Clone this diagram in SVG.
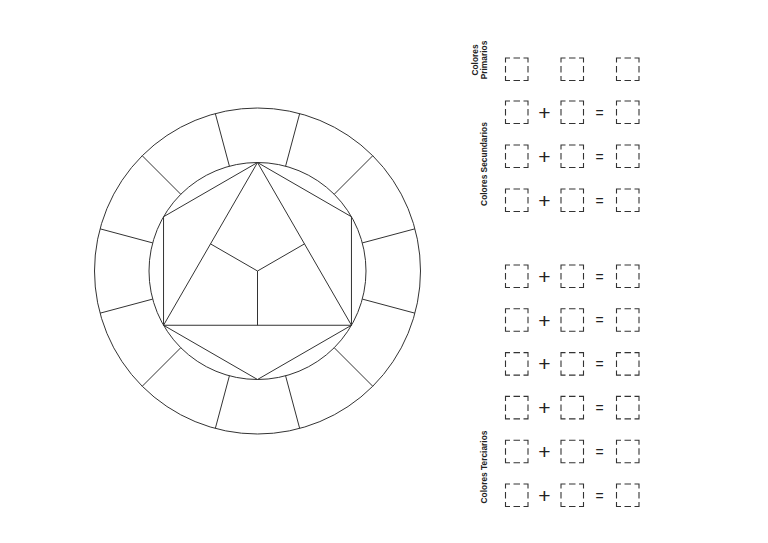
<svg xmlns="http://www.w3.org/2000/svg" xmlns:xlink="http://www.w3.org/1999/xlink" width="768" height="543" viewBox="0 0 768 543">
<style>
.ln{fill:none;stroke:#333;stroke-width:1}
.bx{fill:none;stroke:#333;stroke-width:1.1;stroke-dasharray:9 3.5 6.5 3.5;stroke-dashoffset:4.5}
.lbl{font-family:"Liberation Sans",Arial,sans-serif;font-weight:bold;font-size:8.4px;fill:#222;text-anchor:middle}
.plus{font-family:"Liberation Sans",Arial,sans-serif;font-size:21px;fill:#222;text-anchor:middle}
.eq{font-family:"Liberation Sans",Arial,sans-serif;font-size:14px;fill:#222;text-anchor:middle}
</style>
<defs>
<rect id="box" class="bx" x="0" y="0" width="22.5" height="22.5"/>
</defs>
<rect width="768" height="543" fill="#fff"/>
<g id="wheel">
<circle class="ln" cx="257.5" cy="271" r="163"/>
<circle class="ln" cx="257.5" cy="271" r="108.5"/>
<path class="ln" d="M285.58 166.2L299.68 113.56M334.22 194.28L372.76 155.74M362.3 242.92L414.94 228.82M362.3 299.08L414.94 313.18M334.22 347.72L372.76 386.26M285.58 375.8L299.68 428.44M229.42 375.8L215.32 428.44M180.78 347.72L142.24 386.26M152.7 299.08L100.06 313.18M152.7 242.92L100.06 228.82M180.78 194.28L142.24 155.74M229.42 166.2L215.32 113.56"/>
<polygon class="ln" points="257.5,162.5 351.46,216.75 351.46,325.25 257.5,379.5 163.54,325.25 163.54,216.75"/>
<polygon class="ln" points="257.5,162.5 351.46,325.25 163.54,325.25"/>
<path class="ln" d="M257.5 271V325.25M257.5 271L210.52 243.88M257.5 271L304.48 243.88"/>
</g>
<g id="labels">
<text class="lbl" transform="translate(478,60) rotate(-90)">Colores</text>
<text class="lbl" transform="translate(487,60) rotate(-90)">Primarios</text>
<text class="lbl" transform="translate(487,164) rotate(-90)">Colores Secundarios</text>
<text class="lbl" transform="translate(487,467) rotate(-90)">Colores Terciarios</text>
</g>
<g id="primarios">
<use xlink:href="#box" x="505.5" y="58"/>
<use xlink:href="#box" x="561" y="58"/>
<use xlink:href="#box" x="616.5" y="58"/>
</g>
<g id="secundarios">
<g id="s1"><use xlink:href="#box" x="505.5" y="101"/><text class="plus" x="544.5" y="119.8">+</text><use xlink:href="#box" x="561" y="101"/><text class="eq" x="599.5" y="117.5">=</text><use xlink:href="#box" x="616.5" y="101"/></g>
<g id="s2"><use xlink:href="#box" x="505.5" y="145"/><text class="plus" x="544.5" y="163.8">+</text><use xlink:href="#box" x="561" y="145"/><text class="eq" x="599.5" y="161.5">=</text><use xlink:href="#box" x="616.5" y="145"/></g>
<g id="s3"><use xlink:href="#box" x="505.5" y="189"/><text class="plus" x="544.5" y="207.8">+</text><use xlink:href="#box" x="561" y="189"/><text class="eq" x="599.5" y="205.5">=</text><use xlink:href="#box" x="616.5" y="189"/></g>
</g>
<g id="terciarios">
<g id="t1"><use xlink:href="#box" x="505.5" y="265"/><text class="plus" x="544.5" y="283.8">+</text><use xlink:href="#box" x="561" y="265"/><text class="eq" x="599.5" y="281.5">=</text><use xlink:href="#box" x="616.5" y="265"/></g>
<g id="t2"><use xlink:href="#box" x="505.5" y="308.8"/><text class="plus" x="544.5" y="327.6">+</text><use xlink:href="#box" x="561" y="308.8"/><text class="eq" x="599.5" y="325.3">=</text><use xlink:href="#box" x="616.5" y="308.8"/></g>
<g id="t3"><use xlink:href="#box" x="505.5" y="352.6"/><text class="plus" x="544.5" y="371.4">+</text><use xlink:href="#box" x="561" y="352.6"/><text class="eq" x="599.5" y="369.1">=</text><use xlink:href="#box" x="616.5" y="352.6"/></g>
<g id="t4"><use xlink:href="#box" x="505.5" y="396.4"/><text class="plus" x="544.5" y="415.2">+</text><use xlink:href="#box" x="561" y="396.4"/><text class="eq" x="599.5" y="412.9">=</text><use xlink:href="#box" x="616.5" y="396.4"/></g>
<g id="t5"><use xlink:href="#box" x="505.5" y="440.2"/><text class="plus" x="544.5" y="459">+</text><use xlink:href="#box" x="561" y="440.2"/><text class="eq" x="599.5" y="456.7">=</text><use xlink:href="#box" x="616.5" y="440.2"/></g>
<g id="t6"><use xlink:href="#box" x="505.5" y="484"/><text class="plus" x="544.5" y="502.8">+</text><use xlink:href="#box" x="561" y="484"/><text class="eq" x="599.5" y="500.5">=</text><use xlink:href="#box" x="616.5" y="484"/></g>
</g>
</svg>
